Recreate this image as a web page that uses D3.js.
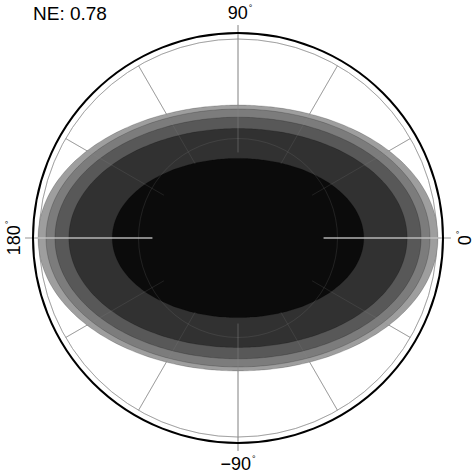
<!DOCTYPE html>
<html>
<head>
<meta charset="utf-8">
<script src="https://cdn.jsdelivr.net/npm/d3@7"></script>
<style>
html,body{margin:0;padding:0;background:#fff;}
svg{display:block;}
text{font-family:"Liberation Sans",Arial,Helvetica,sans-serif;fill:#000;}
</style>
</head>
<body>
<svg id="chart" width="474" height="475"></svg>
<script>
// ---- data ----
const titleText = "NE: 0.78";
// nested contour bands (outermost first): horizontal and vertical semi-axes in radial units
const bandSemiX = [1.005, 0.965, 0.92, 0.85, 0.632];
const bandSemiY = [0.668, 0.648, 0.607, 0.55, 0.40];
const bandColors = ["#9e9e9e", "#7c7c7c", "#585858", "#313131", "#0b0b0b"];
const gridRadii = [0.5, 1.0];
const spokeAngles = [0, 30, 60, 90, 120, 150, 180, 210, 240, 270, 300, 330];
const axisLabels = [
  {angle: 90, text: "90"},
  {angle: 180, text: "180"},
  {angle: 0, text: "0"},
  {angle: -90, text: "\u221290"}
];

// ---- layout ----
const cx = 238, cy = 238;
const rScale = d3.scaleLinear().domain([0, 1]).range([0, 199]);
const svg = d3.select("#chart");
const g = svg.append("g").attr("transform", `translate(${cx},${cy})`);

const toRad = deg => (90 - deg) * Math.PI / 180;

function drawGrid(layer, opacity, vertOpacity, horizOpacity) {
  gridRadii.forEach(r => {
    layer.append("circle").attr("r", rScale(r))
      .attr("fill", "none").attr("stroke", "#8f8f8f").attr("stroke-width", 0.8)
      .attr("stroke-opacity", opacity);
  });
  spokeAngles.forEach(a => {
    const isAxis = a % 90 === 0;
    const r0 = rScale(0.43), r1 = rScale(isAxis ? 1.07 : 1.0);
    const th = a * Math.PI / 180;
    const horiz = (a === 0 || a === 180);
    layer.append("line")
      .attr("x1", r0 * Math.cos(th)).attr("y1", -r0 * Math.sin(th))
      .attr("x2", r1 * Math.cos(th)).attr("y2", -r1 * Math.sin(th))
      .attr("stroke", horiz ? "#c4c4c4" : "#8a8a8a")
      .attr("stroke-width", horiz ? 1.3 : 0.8)
      .attr("stroke-opacity", horiz ? horizOpacity : (isAxis ? vertOpacity : opacity));
  });
}

// grid under the bands
drawGrid(g.append("g"), 1, 1, 1);

// ---- bands ----
const thetas = d3.range(0, 360, 2);
const radial = d3.lineRadial().curve(d3.curveCardinalClosed);
bandSemiX.forEach((a, i) => {
  const b = bandSemiY[i];
  const pts = thetas.map(t => {
    const th = t * Math.PI / 180;
    const r = a * b / Math.sqrt(Math.pow(b * Math.cos(th), 2) + Math.pow(a * Math.sin(th), 2));
    return [toRad(t), rScale(r)];
  });
  g.append("path")
    .attr("d", radial(pts))
    .attr("fill", bandColors[i])
    .attr("stroke", "rgba(0,0,0,0.22)")
    .attr("stroke-width", 0.8);
});

// faint grid over the bands
drawGrid(g.append("g"), 0.22, 0.6, 0.9);

// outer frame
g.append("circle").attr("r", 205).attr("fill", "none")
  .attr("stroke", "#000").attr("stroke-width", 2);

// ---- labels ----
svg.append("text").attr("x", 33).attr("y", 20)
  .attr("font-size", 19).text(titleText);

function degLabel(sel, txt) {
  sel.append("tspan").text(txt);
  sel.append("tspan").attr("font-size", 9).attr("dx", 1).attr("dy", -8).text("\u00b0");
}
axisLabels.forEach(l => {
  const t = svg.append("text").attr("font-size", 18).attr("text-anchor", "middle");
  if (l.angle === 90) {
    t.attr("x", 240).attr("y", 19);
  } else if (l.angle === -90) {
    t.attr("x", 238).attr("y", 470);
  } else if (l.angle === 180) {
    t.attr("transform", "translate(20,238) rotate(-90)");
  } else {
    t.attr("transform", "translate(471,238) rotate(-90)");
  }
  degLabel(t, l.text);
});
</script>
</body>
</html>
